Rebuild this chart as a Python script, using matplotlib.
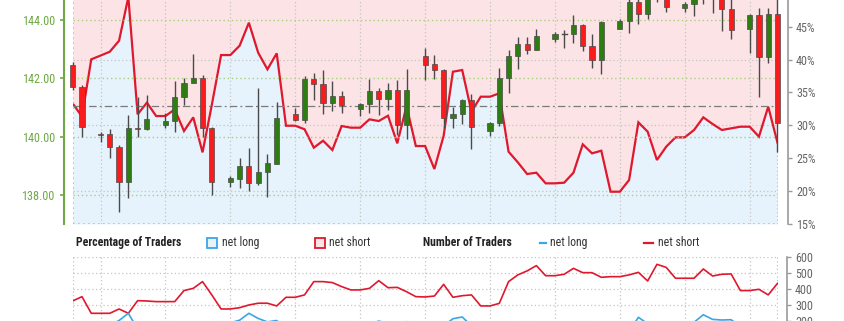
import matplotlib
matplotlib.use('Agg')
import matplotlib.pyplot as plt
from matplotlib.patches import Rectangle
from matplotlib.lines import Line2D
from matplotlib import font_manager
from matplotlib.font_manager import FontProperties

names = {f.name for f in font_manager.fontManager.ttflist}
STRETCH = 'normal'
SCALE = 1.0
if 'Roboto Condensed' in names:
    FONT = 'Roboto Condensed'
elif 'Liberation Sans Narrow' in names:
    FONT = 'Liberation Sans Narrow'
else:
    path = font_manager.findfont(FontProperties(family='DejaVu Sans', stretch='condensed'),
                                 fallback_to_default=False)
    if 'Condensed' in path:
        FONT = 'DejaVu Sans'
        STRETCH = 'condensed'
        SCALE = 0.9
    else:
        FONT = 'Liberation Sans'
        SCALE = 0.86
plt.rcParams['font.family'] = [FONT, 'DejaVu Sans']
plt.rcParams['font.stretch'] = STRETCH

# ---------------- data ----------------
candle_slots = [0, 1, 3, 4, 5, 6, 7, 8, 10, 11, 12, 13, 14, 15, 17, 18, 19, 20, 21, 22,
                24, 25, 26, 27, 28, 29, 31, 32, 33, 34, 35, 36, 38, 39, 40, 41, 42, 43,
                45, 46, 47, 48, 49, 50, 52, 53, 54, 55, 56, 57, 59, 60, 61, 62, 63, 64,
                66, 67, 68, 69, 70, 71, 73, 74, 75, 76]
opens = [142.45, 141.71, 140.11, 140.08, 139.65, 138.46, 140.29, 140.26, 140.40, 140.55,
         141.37, 141.85, 142.00, 140.29, 138.46, 138.57, 139.00, 138.40, 138.80, 139.06,
         140.78, 140.57, 141.97, 141.80, 141.16, 141.39, 140.97, 141.14, 141.58, 141.31,
         141.62, 140.40, 142.76, 142.49, 142.28, 140.63, 140.78, 141.26, 140.21, 140.46,
         142.02, 142.76, 143.17, 142.99, 143.37, 143.52, 143.52, 143.82, 143.11, 142.65,
         143.71, 143.97, 144.62, 144.22, 144.80, 144.85, 144.43, 144.54, 144.85, 144.90,
         144.80, 144.37, 143.71, 144.17, 142.72, 144.21]
highs = [142.57, 141.77, 140.17, 140.26, 139.72, 140.74, 141.35, 141.43, 140.80, 141.91,
         142.03, 142.85, 142.11, 140.34, 138.66, 139.29, 139.60, 141.69, 139.41, 141.20,
         141.00, 142.08, 142.20, 142.28, 141.91, 141.58, 141.16, 141.98, 141.69, 141.83,
         141.94, 142.34, 143.03, 142.80, 142.31, 141.03, 141.31, 141.48, 140.51, 142.36,
         142.97, 143.42, 143.42, 143.68, 143.60, 143.65, 144.17, 143.88, 143.52, 143.97,
         144.05, 144.72, 144.72, 144.90, 145.00, 145.00, 144.62, 144.90, 145.10, 145.05,
         144.95, 144.75, 144.20, 144.40, 144.43, 144.75]
lows = [141.60, 140.00, 139.83, 139.26, 137.41, 137.89, 139.98, 140.23, 140.29, 140.17,
        141.08, 141.85, 140.00, 138.00, 138.29, 138.23, 138.15, 138.34, 137.92, 139.06,
        140.55, 140.48, 141.26, 140.78, 140.89, 140.82, 140.71, 140.80, 140.74, 140.91,
        140.06, 139.94, 141.94, 141.97, 140.29, 140.29, 140.43, 139.57, 140.02, 140.37,
        141.51, 142.34, 142.85, 142.97, 143.25, 143.03, 143.20, 142.95, 142.36, 142.15,
        143.68, 143.57, 143.88, 144.05, 144.62, 144.28, 144.28, 144.13, 144.57, 144.25,
        143.63, 143.34, 142.88, 141.37, 142.53, 139.49]
closes = [141.71, 140.34, 140.07, 139.66, 138.46, 140.29, 140.28, 140.61, 140.54, 141.37,
          141.85, 142.00, 140.29, 138.46, 138.60, 139.00, 138.40, 138.80, 139.09, 140.66,
          140.57, 141.97, 141.80, 141.16, 141.39, 141.08, 141.14, 141.58, 141.31, 141.62,
          140.40, 141.60, 142.45, 142.28, 140.63, 140.78, 141.26, 140.32, 140.46, 142.02,
          142.76, 143.17, 142.99, 143.45, 143.52, 143.52, 143.82, 143.11, 142.65, 143.94,
          143.97, 144.62, 144.22, 144.75, 144.90, 144.45, 144.54, 144.75, 144.95, 144.80,
          144.37, 143.65, 144.17, 142.72, 144.21, 140.46]

# net long percentage, one value per slot 0..76
pct_long = [33.34, 31.31, 40.03, 40.6, 41.19, 42.86, 49.5, 31.67, 33.44, 31.41,
            31.41, 32.43, 29.13, 31.21, 25.89, 33.09, 40.68, 40.68, 42.10, 45.60,
            41.04, 38.51, 40.94, 29.94, 29.94, 29.4, 26.6, 27.66, 26.25, 29.89,
            29.64, 29.64, 30.91, 30.65, 31.46, 27.26, 32.93, 26.85, 26.85, 23.36,
            28.4, 38.15, 38.40, 32.07, 34.35, 34.35, 34.86, 25.99, 24.37, 22.60,
            22.80, 21.18, 21.18, 21.28, 22.80, 27.11, 25.74, 26.14, 19.91, 19.91,
            21.69, 30.45, 29.03, 24.73, 26.75, 28.17, 28.17, 29.29, 31.21, 30.20,
            29.29, 29.54, 29.79, 29.79, 28.27, 32.83, 27.36]
short_count = [327, 354, 250, 250, 250, 277, 250, 329, 327, 323, 323, 323, 392, 406, 448,
               365, 277, 277, 285, 302, 313, 313, 296, 350, 350, 365, 448, 448, 442, 417,
               396, 396, 406, 454, 410, 412, 385, 354, 352, 358, 431, 350, 360, 365, 296,
               296, 312, 448, 490, 515, 548, 485, 485, 494, 531, 504, 504, 475, 479, 479,
               490, 506, 452, 556, 537, 469, 469, 469, 527, 483, 494, 496, 392, 392, 400,
               365, 437]
long_count = [163, 161, 167, 171, 175, 205, 250, 152, 164, 148, 148, 155, 161, 184, 156,
              180, 190, 190, 207, 250, 218, 196, 205, 150, 150, 152, 162, 171, 157, 178,
              167, 167, 182, 201, 188, 154, 198, 130, 129, 109, 171, 216, 227, 172, 155,
              155, 167, 157, 158, 150, 162, 130, 130, 134, 157, 187, 175, 168, 119, 119,
              136, 225, 185, 183, 196, 184, 184, 194, 241, 212, 208, 210, 166, 166, 158,
              178, 165]
price_ticks = [138.0, 140.0, 142.0, 144.0]
pct_ticks = [15, 20, 25, 30, 35, 40, 45]
pct_grid = [20, 30, 40]
count_ticks = [0, 100, 200, 300, 400, 500, 600]
week_slots = [3, 10, 17, 24, 31, 38, 45, 52, 59, 66, 73]
ref_price = 141.04

# ---------------- styles ----------------
W, H = 845, 321
PINK = '#fce4e6'
BLUE_FILL = '#e6f3fc'
RED = '#e0182d'
BLUE = '#3aa6e6'
GREEN_TXT = '#6fa845'
GREEN_GRID = '#a9cf7f'
GRAY_GRID = '#c4c4c4'
GRAY_TXT = '#666666'
DOT = (0, (1, 2))
TS = 8.7 * SCALE   # tick label size
LS = 8.5 * SCALE   # legend text size

def box(x0, y0, x1, y1):
    return [x0 / W, 1 - y1 / H, (x1 - x0) / W, (y1 - y0) / H]

fig = plt.figure(figsize=(W / 100, H / 100), dpi=100)

XMAX = 76
n = len(pct_long)
xs = list(range(n))

# ---------- main panel ----------
ax_pct = fig.add_axes(box(72.7, 0, 777.5, 224))
ax_price = ax_pct.twinx()
PCT_LIM = (15, 49.05)
PRICE_LIM = (137.01, 144.69)
ax_pct.set_ylim(*PCT_LIM)
ax_price.set_ylim(*PRICE_LIM)
ax_pct.set_xlim(0, XMAX)
ax_price.set_xlim(0, XMAX)

ax_pct.fill_between(xs, pct_long, PCT_LIM[0], color=BLUE_FILL, lw=0, zorder=1)
ax_pct.fill_between(xs, pct_long, 60, color=PINK, lw=0, zorder=1)
for s in week_slots:
    ax_pct.axvline(s, color=GRAY_GRID, lw=0.9, ls=DOT, zorder=2)
ax_pct.axvline(XMAX, color=GRAY_GRID, lw=0.9, ls=DOT, zorder=2)
for v in pct_grid:
    ax_pct.axhline(v, color=GRAY_GRID, lw=0.9, ls=DOT, zorder=2)
ax_pct.plot(xs, pct_long, color=RED, lw=1.6, zorder=4, solid_joinstyle='miter')

for v in price_ticks:
    ax_price.axhline(v, color=GREEN_GRID, lw=1.0, ls=DOT, zorder=1)
ax_price.axhline(PRICE_LIM[0], color=GREEN_GRID, lw=1.2, ls=DOT, zorder=1)
ax_price.axvline(0, color=GREEN_GRID, lw=1.2, ls=DOT, zorder=1)
ax_price.axhline(ref_price, color='#7a7a7a', lw=0.9, ls=(0, (6, 2.5, 1.5, 2.5)), zorder=1)

bw = 0.56
for s, o, h, l, c in zip(candle_slots, opens, highs, lows, closes):
    ax_price.plot([s, s], [l, h], color='#4a4a4a', lw=1.0, zorder=5, clip_on=False,
                  solid_capstyle='butt')
    if abs(c - o) < 0.005:
        ax_price.plot([s - bw / 2, s + bw / 2], [o, o], color='#4a4a4a', lw=1.0,
                      zorder=6, clip_on=False)
        continue
    col = '#2e7d12' if c > o else '#fa1c1c'
    ax_price.add_patch(Rectangle((s - bw / 2, min(o, c)), bw, abs(c - o),
                                 facecolor=col, edgecolor='#4a4a4a', lw=0.5,
                                 zorder=6, clip_on=False))

for sp in ax_pct.spines.values():
    sp.set_visible(False)
for sp in ax_price.spines.values():
    sp.set_visible(False)
ax_price.spines['left'].set_visible(True)
ax_price.spines['left'].set_position(('outward', 6.3))
ax_price.spines['left'].set_color(GREEN_TXT)
ax_price.spines['left'].set_linewidth(1.5)
ax_pct.spines['right'].set_visible(True)
ax_pct.spines['right'].set_position(('outward', 7.3))
ax_pct.spines['right'].set_color('#9a9a9a')
ax_pct.spines['right'].set_linewidth(1.2)

ax_price.yaxis.set_ticks_position('left')
ax_price.yaxis.set_label_position('left')
ax_pct.yaxis.set_ticks_position('right')
ax_price.set_yticks(price_ticks)
ax_price.set_yticklabels([f'{v:.2f}' for v in price_ticks])
ax_price.tick_params(axis='y', colors=GREEN_TXT, labelsize=TS, length=3, width=1.2, pad=3.5)
ax_pct.set_yticks(pct_ticks)
ax_pct.set_yticklabels([f'{v}%' for v in pct_ticks])
ax_pct.tick_params(axis='y', colors='#9a9a9a', labelcolor=GRAY_TXT, labelsize=TS,
                   length=3, width=1.0, pad=3)
ax_pct.set_xticks([])
ax_price.set_xticks([])

# ---------- bottom panel ----------
ax_b = fig.add_axes(box(72.7, 257.3, 777.5, 353.3))
ax_b.set_xlim(0, XMAX)
ax_b.set_ylim(0, 600)
for s in [0] + week_slots + [XMAX]:
    ax_b.axvline(s, color=GRAY_GRID, lw=0.9, ls=DOT, zorder=1)
for v in count_ticks:
    ax_b.axhline(v, color=GRAY_GRID, lw=0.9, ls=DOT, zorder=1)
ax_b.plot(xs, short_count, color=RED, lw=1.2, zorder=3)
ax_b.plot(xs, long_count, color=BLUE, lw=1.2, zorder=3)
for sp in ax_b.spines.values():
    sp.set_visible(False)
ax_b.spines['right'].set_visible(True)
ax_b.spines['right'].set_position(('outward', 6.6))
ax_b.spines['right'].set_color('#9a9a9a')
ax_b.spines['right'].set_linewidth(1.2)
ax_b.yaxis.set_ticks_position('right')
ax_b.set_yticks(count_ticks)
ax_b.set_yticklabels([str(v) for v in count_ticks])
ax_b.tick_params(axis='y', colors='#9a9a9a', labelcolor=GRAY_TXT, labelsize=TS,
                 length=3, width=1.0, pad=3)
ax_b.set_xticks([])
ax_b.patch.set_visible(False)

# ---------- legend row ----------
ly = 1 - 242.5 / H
fig.text(76 / W, ly, 'Percentage of Traders', fontsize=LS, fontweight='bold',
         color='#222222', va='center', ha='left')
fig.patches.append(Rectangle((207 / W, 1 - 247.5 / H), 10 / W, 10 / H,
                             transform=fig.transFigure, facecolor=BLUE_FILL,
                             edgecolor=BLUE, lw=1.3))
fig.text(222 / W, ly, 'net long', fontsize=LS, color='#333333', va='center', ha='left')
fig.patches.append(Rectangle((315 / W, 1 - 247.5 / H), 10 / W, 10 / H,
                             transform=fig.transFigure, facecolor=PINK,
                             edgecolor=RED, lw=1.3))
fig.text(329.5 / W, ly, 'net short', fontsize=LS, color='#333333', va='center', ha='left')

fig.text(423 / W, ly, 'Number of Traders', fontsize=LS, fontweight='bold',
         color='#222222', va='center', ha='left')
fig.lines.append(Line2D([540 / W, 546 / W], [ly, ly], transform=fig.transFigure,
                        color=BLUE, lw=1.6))
fig.text(550 / W, ly, 'net long', fontsize=LS, color='#333333', va='center', ha='left')
fig.lines.append(Line2D([644 / W, 653 / W], [ly, ly], transform=fig.transFigure,
                        color=RED, lw=1.6))
fig.text(658 / W, ly, 'net short', fontsize=LS, color='#333333', va='center', ha='left')

fig.savefig('out.png', dpi=100)
